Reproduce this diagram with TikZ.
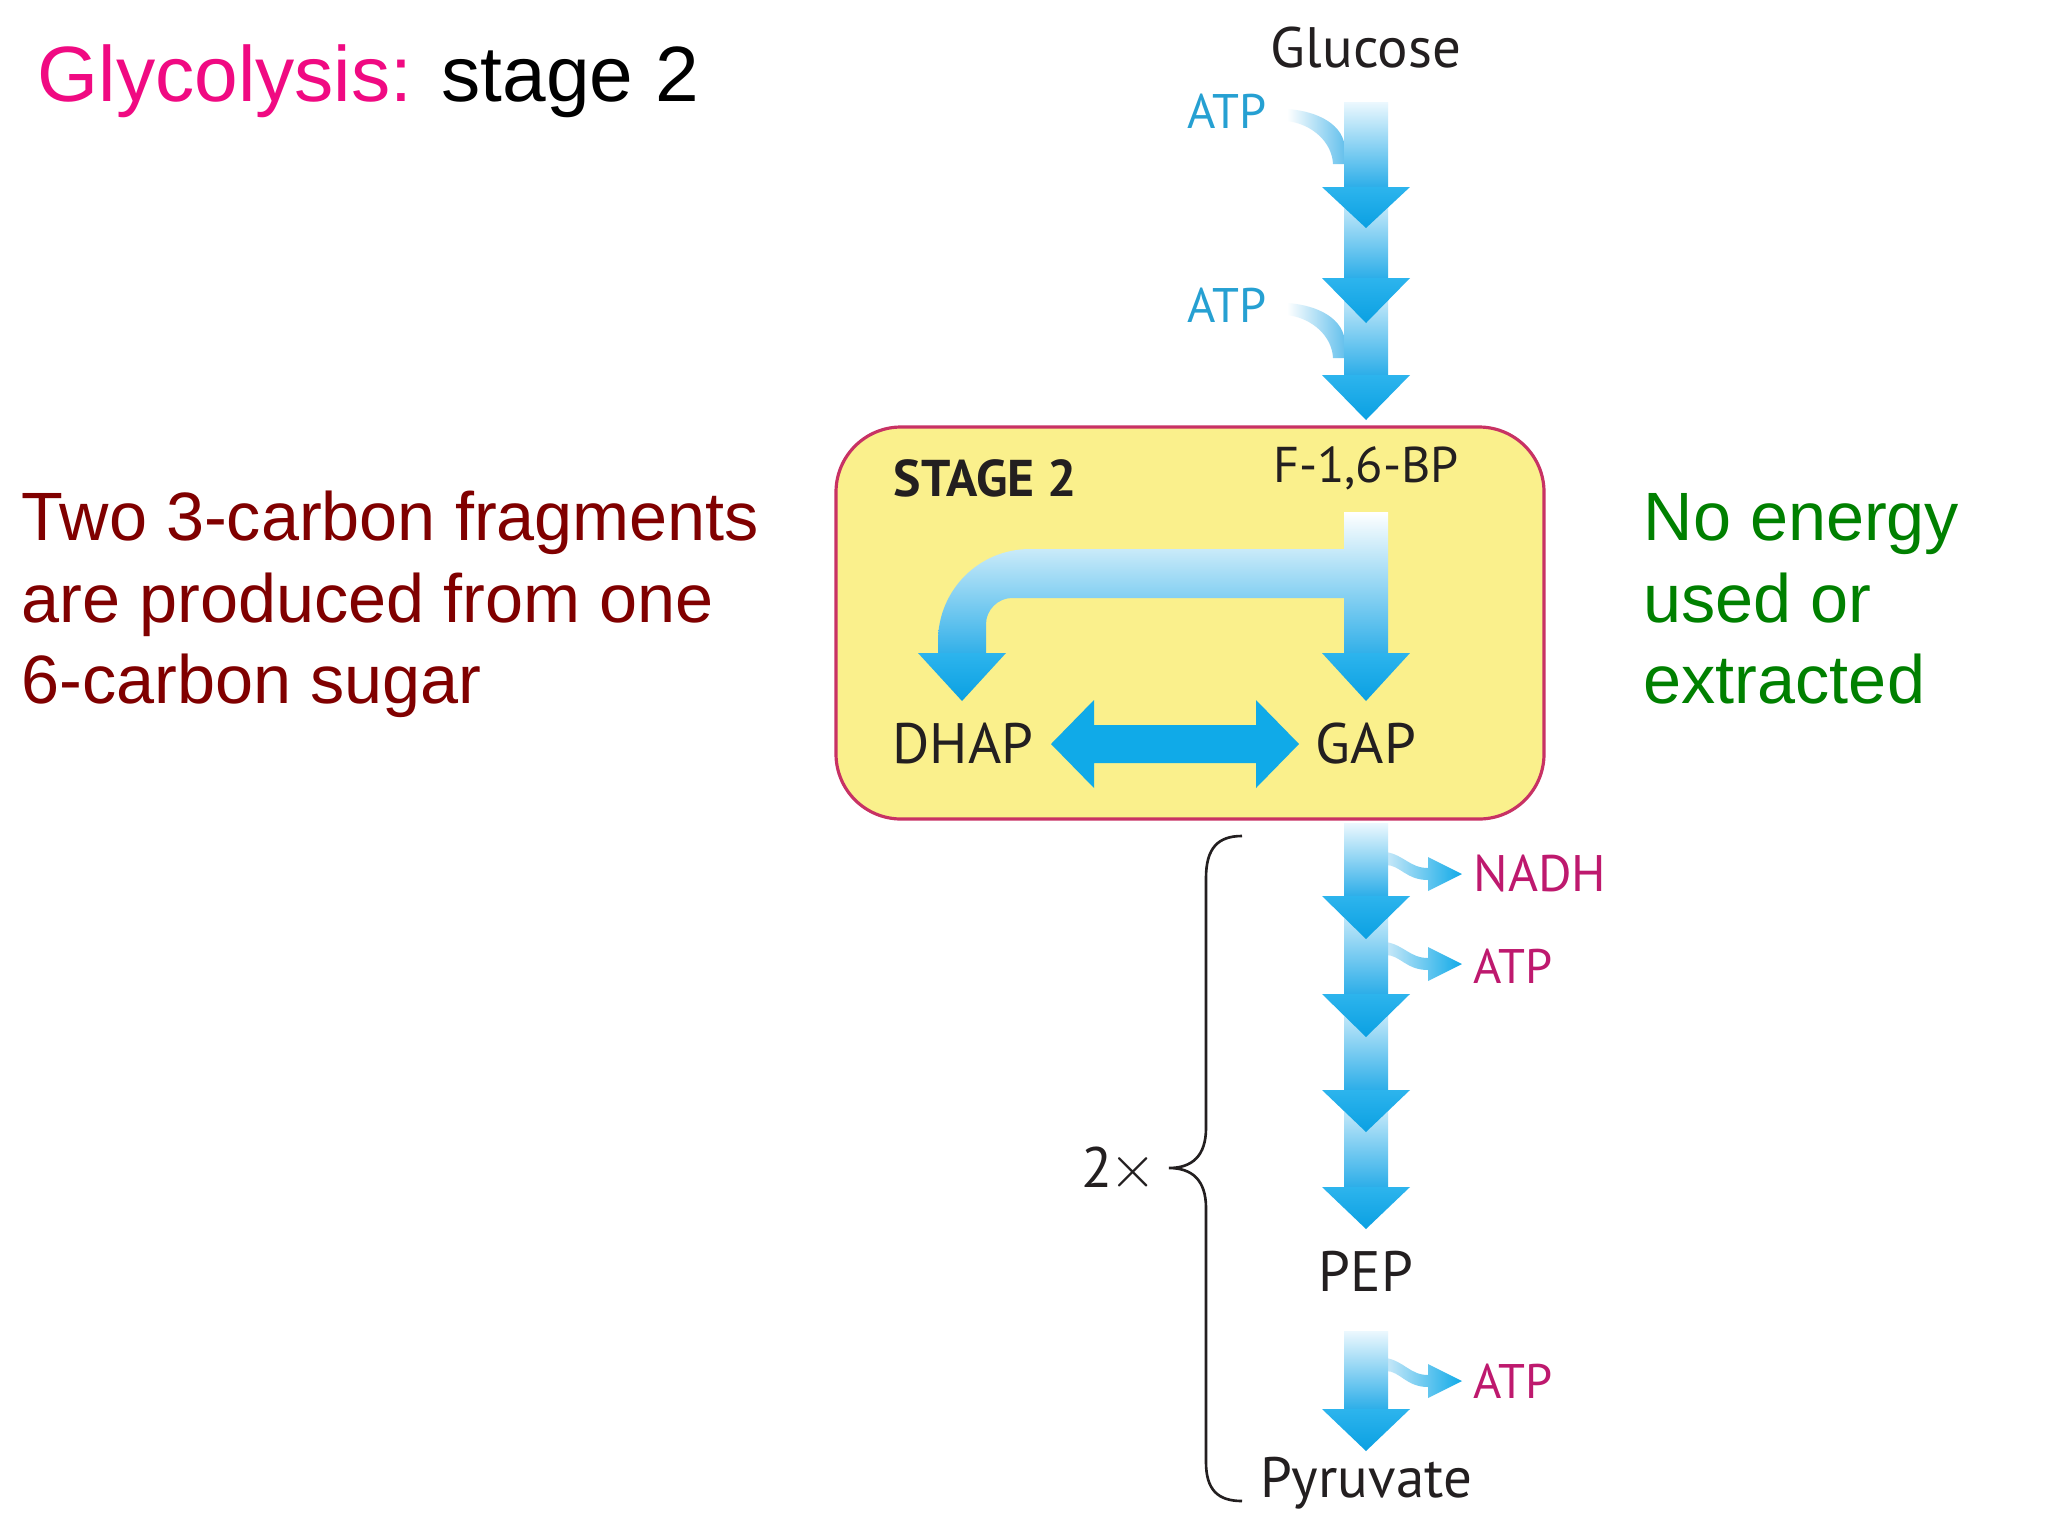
\documentclass[tikz,border=0pt]{standalone}
\usepackage{fontspec}
\setmainfont{Liberation Sans}
\newfontfamily\labfont{PT Sans}
\definecolor{titlemag}{RGB}{240,10,130}
\definecolor{sidered}{RGB}{128,0,0}
\definecolor{sidegreen}{RGB}{0,128,0}
\definecolor{labgray}{RGB}{35,31,32}
\definecolor{atpblue}{RGB}{38,160,210}
\definecolor{atpmag}{RGB}{190,25,110}
\definecolor{boxfill}{RGB}{250,240,140}
\definecolor{boxline}{RGB}{200,50,100}
\definecolor{shafttop}{RGB}{236,248,254}
\definecolor{shaftbot}{RGB}{40,172,232}
\definecolor{headtop}{RGB}{45,180,237}
\definecolor{headbot}{RGB}{10,160,226}
\definecolor{dblblue}{RGB}{16,170,232}
\definecolor{curvelight}{RGB}{200,232,248}
\definecolor{curveblue}{RGB}{100,192,236}
\tikzset{
  shaftsty/.style={top color=shafttop, bottom color=shaftbot, draw=none},
  headsty/.style={top color=headtop, bottom color=headbot, draw=none},
  forksty/.style={top color=white, bottom color=shaftbot, draw=none},
  insty/.style={left color=white, right color=curveblue, draw=none},
  outsty/.style={left color=curvelight, right color=dblblue, draw=none},
  lab/.style={font=\labfont\fontsize{16.2}{19}\selectfont, text=labgray, inner sep=0pt},
  smalllab/.style={font=\labfont\fontsize{13.8}{16}\selectfont, inner sep=0pt},
  sidetxt/.style={font=\fontsize{19.45}{23}\selectfont, inner sep=0pt, anchor=base west},
}
\newcommand\dnarrow[4]{%
  \shade[shaftsty] ({#1-22},#2) rectangle ({#1+22},{#3+2});
  \shade[headsty] ({#1-44},#3) -- ({#1+44},#3) -- (#1,#4) -- cycle;}
\newcommand\atpin[1]{%
  \shade[insty] (1287,{109+#1}) .. controls (1318,{111+#1}) and (1345,{125+#1}) .. (1345,{150+#1})
    -- (1345,{164+#1}) -- (1333,{164+#1}) .. controls (1332,{142+#1}) and (1312,{124+#1}) .. (1287,{121+#1}) -- cycle;}
\newcommand\atpout[2]{%
  \shade[outsty] (1386,#1) .. controls (1404,{#1+3}) and (1410,{#2-6}) .. (1428,{#2-6})
    -- (1428,{#2-17}) -- (1462,#2) -- (1428,{#2+17}) -- (1428,{#2+6})
    .. controls (1406,{#2+6}) and (1400,{#1+13}) .. (1386,{#1+13}) -- cycle;}
\begin{document}
\begin{tikzpicture}[x=0.01cm,y=-0.01cm]
\useasboundingbox (0,0) rectangle (2048,1536);
\fill[white] (0,0) rectangle (2048,1536);

% title
\node[anchor=base west, inner sep=0pt, font=\fontsize{22.3}{27}\selectfont] (title) at (37,101)
  {\textcolor{titlemag}{Glycolysis:} stage 2};

% side texts
\node[sidetxt, text=sidered] (l1) at (21,540) {Two 3-carbon fragments};
\node[sidetxt, text=sidered] (l2) at (21,622) {are produced from one};
\node[sidetxt, text=sidered] (l3) at (21,703) {6-carbon sugar};
\node[sidetxt, text=sidegreen] (r1) at (1643,540) {No energy};
\node[sidetxt, text=sidegreen] (r2) at (1643,622) {used or};
\node[sidetxt, text=sidegreen] (r3) at (1643,703) {extracted};

% stage box
\draw[fill=boxfill, draw=boxline, line width=0.9pt, rounded corners=0.65cm] (836,427) rectangle (1544,819);
\coordinate (boxtop) at (1366,427);
\coordinate (boxbot) at (1366,821);

% upper column (drawn bottom-up so each head lies over the next shaft)
\atpin{0}
\atpin{194}
\dnarrow{1366}{278}{375}{420}
\dnarrow{1366}{187}{278}{323}
\dnarrow{1366}{102}{187}{228}

% fork arrow inside box
\shade[forksty] (1344,512) -- (1388,512) -- (1388,660) -- (1344,660) -- (1344,598) -- (1012,598)
  .. controls (998,598) and (986,610) .. (986,624) -- (986,660) -- (938,660) -- (938,641)
  .. controls (938,590) and (979,549) .. (1030,549) -- (1344,549) -- cycle;
\shade[headsty] (1322,653) -- (1410,653) -- (1366,701) -- cycle;
\shade[headsty] (918,653) -- (1006,653) -- (962,701) -- cycle;

% double arrow DHAP <-> GAP
\fill[dblblue] (1051,744) -- (1094,700) -- (1094,725) -- (1256,725) -- (1256,700) -- (1299,744)
  -- (1256,788) -- (1256,763) -- (1094,763) -- (1094,788) -- cycle;

% lower column
\atpout{852}{874}
\atpout{942}{964}
\atpout{1358}{1381}
\dnarrow{1366}{1090}{1187}{1229}
\dnarrow{1366}{994}{1090}{1132}
\dnarrow{1366}{896}{994}{1037}
\dnarrow{1366}{823}{896}{939}
\dnarrow{1366}{1331}{1409}{1451}

% labels
\node[lab, anchor=base] (glucose) at (1366,67) {Glucose};
\node[smalllab, text=atpblue, anchor=base west] (atp1) at (1187,128) {ATP};
\node[smalllab, text=atpblue, anchor=base west] (atp2) at (1187,322) {ATP};
\node[lab, anchor=base west, font=\labfont\bfseries\fontsize{14.7}{18}\selectfont] (stage) at (893,496) {STAGE 2};
\node[lab, anchor=base, font=\labfont\fontsize{14.3}{17}\selectfont] (f16bp) at (1366,482) {F-1,6-BP};
\node[lab, anchor=base] (dhap) at (963,763) {DHAP};
\node[lab, anchor=base] (gap) at (1366,763) {GAP};
\node[smalllab, text=atpmag, anchor=base west, font=\labfont\fontsize{14.6}{17}\selectfont] (nadh) at (1473,891) {NADH};
\node[smalllab, text=atpmag, anchor=base west] (atp3) at (1473,983) {ATP};
\node[lab, anchor=base] (pep) at (1366,1291) {PEP};
\node[smalllab, text=atpmag, anchor=base west] (atp4) at (1473,1398) {ATP};
\node[lab, anchor=base] (pyruvate) at (1366,1497) {Pyruvate};

% brace and multiplier
\coordinate (bt) at (1242,836);
\coordinate (bb) at (1242,1501);
\coordinate (btip) at (1169,1168);
\draw[labgray, line width=0.75pt] (bt) .. controls (1218,836) and (1206,848) .. (1206,878) -- (1206,1128)
  .. controls (1206,1156) and (1192,1168) .. (btip) .. controls (1192,1168) and (1206,1180) .. (1206,1208)
  -- (1206,1462) .. controls (1206,1490) and (1218,1501) .. (bb);
\node[lab, anchor=base east] (twox) at (1157,1187) {2\kern-1pt$\times$};
\end{tikzpicture}
\end{document}
